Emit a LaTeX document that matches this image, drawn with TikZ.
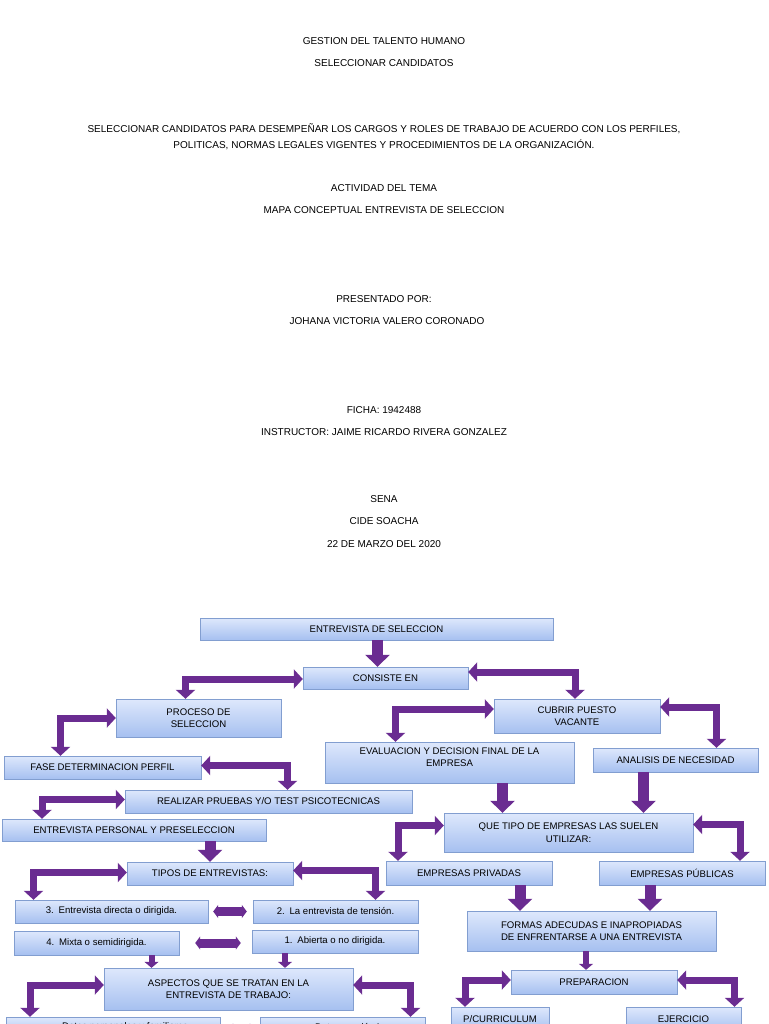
\documentclass[tikz,border=0pt]{standalone}
\usepackage{fontspec}
\setmainfont{Liberation Sans}
\usetikzlibrary{arrows.meta,shadows}

\definecolor{morado}{RGB}{106,44,145}
\definecolor{cajaarriba}{RGB}{222,232,252}
\definecolor{cajaabajo}{RGB}{166,192,240}
\definecolor{cajaborde}{RGB}{130,158,208}

\tikzset{
    caja/.style={draw=cajaborde, top color=cajaarriba, bottom color=cajaabajo,
        drop shadow={shadow xshift=1pt, shadow yshift=-1pt, opacity=0.3},
        inner sep=0pt, align=center, font=\fontsize{9.6}{12.5}\selectfont},
    flecha/.style={morado, line width=7pt,
        {Triangle[width=19pt,length=9pt]}-{Triangle[width=19pt,length=9pt]}},
    baja/.style={morado, line width=11pt, -{Triangle[width=24pt,length=12pt]}},
    bajita/.style={morado, line width=6pt, -{Triangle[width=14pt,length=6pt]}},
    doble/.style={morado, line width=9pt,
        {Triangle[width=13pt,length=5pt]}-{Triangle[width=13pt,length=5pt]}},
    titulo/.style={font=\fontsize{10}{12}\selectfont, inner sep=0pt}
}

\begin{document}
\begin{tikzpicture}[x=1pt, y=-1pt]
    \useasboundingbox (0,0) rectangle (768,1024);
    \clip (0,0) rectangle (768,1024);

    % Portada
    \node[titulo] (t1) at (384,41) {GESTION DEL TALENTO HUMANO};
    \node[titulo] (t2) at (384,63) {SELECCIONAR CANDIDATOS};
    \node[titulo] (t3) at (384,129) {SELECCIONAR CANDIDATOS PARA DESEMPEÑAR LOS CARGOS Y ROLES DE TRABAJO DE ACUERDO CON LOS PERFILES,};
    \node[titulo] (t4) at (384,145) {POLITICAS, NORMAS LEGALES VIGENTES Y PROCEDIMIENTOS DE LA ORGANIZACIÓN.};
    \node[titulo] (t5) at (384,188) {ACTIVIDAD DEL TEMA};
    \node[titulo] (t6) at (384,210) {MAPA CONCEPTUAL ENTREVISTA DE SELECCION};
    \node[titulo] (t7) at (384,299) {PRESENTADO POR:};
    \node[titulo] (t8) at (387,321) {JOHANA VICTORIA VALERO CORONADO};
    \node[titulo] (t9) at (384,410) {FICHA: 1942488};
    \node[titulo] (t10) at (384,432) {INSTRUCTOR: JAIME RICARDO RIVERA GONZALEZ};
    \node[titulo] (t11) at (384,499) {SENA};
    \node[titulo] (t12) at (384,521) {CIDE SOACHA};
    \node[titulo] (t13) at (384,544) {22 DE MARZO DEL 2020};

    % Cajas del mapa
    \node[caja, minimum width=353pt, minimum height=22pt] (entrevista) at (376.5,629) {ENTREVISTA DE SELECCION};
    \node[caja, minimum width=165pt, minimum height=22pt] (consiste) at (385.5,678) {CONSISTE EN};
    \node[caja, minimum width=165pt, minimum height=38pt] (proceso) at (198.5,718) {PROCESO DE\\SELECCION};
    \node[caja, minimum width=166pt, minimum height=34pt] (cubrir) at (577,716) {CUBRIR PUESTO\\VACANTE};
    \node[caja, minimum width=197pt, minimum height=23pt] (fase) at (102.5,767.5) {FASE DETERMINACION PERFIL};
    \node[caja, minimum width=249pt, minimum height=41pt] (evaluacion) at (449.5,762.5) {EVALUACION Y DECISION FINAL DE LA\\EMPRESA\\[-2pt]};
    \node[caja, minimum width=165pt, minimum height=24pt] (analisis) at (675.5,760) {ANALISIS DE NECESIDAD};
    \node[caja, minimum width=287pt, minimum height=23pt] (pruebas) at (268.5,801.5) {REALIZAR PRUEBAS Y/O TEST PSICOTECNICAS};
    \node[caja, minimum width=264pt, minimum height=22pt] (personal) at (134,830) {ENTREVISTA PERSONAL Y PRESELECCION};
    \node[caja, minimum width=249pt, minimum height=39pt] (quetipo) at (568.5,832.5) {QUE TIPO DE EMPRESAS LAS SUELEN\\UTILIZAR:};
    \node[caja, minimum width=166pt, minimum height=23pt] (tipos) at (210,873.5) {TIPOS DE ENTREVISTAS:};
    \node[caja, minimum width=166pt, minimum height=24pt] (privadas) at (469,873) {EMPRESAS PRIVADAS};
    \node[caja, minimum width=166pt, minimum height=24pt] (publicas) at (682,873) {EMPRESAS PÚBLICAS};
    \node[caja, minimum width=193pt, minimum height=23pt] (directa) at (111.5,911.5) {3.\enspace Entrevista directa o dirigida.};
    \node[caja, minimum width=165pt, minimum height=23pt] (tension) at (335.5,911.5) {2.\enspace La entrevista de tensión.};
    \node[caja, minimum width=249pt, minimum height=40pt] (formas) at (591.5,931) {FORMAS ADECUDAS E INAPROPIADAS\\DE ENFRENTARSE A UNA ENTREVISTA};
    \node[caja, minimum width=165pt, minimum height=24pt] (mixta) at (96.5,943) {4.\enspace Mixta o semidirigida.};
    \node[caja, minimum width=166pt, minimum height=23pt] (abierta) at (335,941.5) {1.\enspace Abierta o no dirigida.};
    \node[caja, minimum width=249pt, minimum height=42pt] (aspectos) at (228.5,989) {ASPECTOS QUE SE TRATAN EN LA\\ENTREVISTA DE TRABAJO:};
    \node[caja, minimum width=166pt, minimum height=24pt] (preparacion) at (594,982) {PREPARACION};
    \node[caja, minimum width=98pt, minimum height=24pt] (curriculum) at (500,1019) {P/CURRICULUM};
    \node[caja, minimum width=115pt, minimum height=24pt] (ejercicio) at (683.5,1019) {EJERCICIO};
    \node[caja, minimum width=214pt, minimum height=20pt] (datos) at (113,1027) {\quad$\triangleright$\quad Datos personales y familiares};
    \node[caja, minimum width=165pt, minimum height=20pt] (academicos) at (342.5,1027) {\quad$\bullet$\quad Datos académicos};

    % Flechas rectas
    \draw[baja] (entrevista.south -| consiste.north) ++(-8pt,0) coordinate (e1) -- (e1 |- consiste.north);
    \draw[baja] ([xshift=76pt]personal.south) -- ([xshift=76pt]personal.south |- tipos.north);
    \draw[baja] ([xshift=53pt]evaluacion.south) -- ([xshift=53pt]evaluacion.south |- quetipo.north);
    \draw[baja] ([xshift=-32pt]analisis.south) -- ([xshift=-32pt]analisis.south |- quetipo.north);
    \draw[baja] ([xshift=51pt]privadas.south) -- ([xshift=51pt]privadas.south |- formas.north);
    \draw[baja] ([xshift=-32pt]publicas.south) -- ([xshift=-32pt]publicas.south |- formas.north);
    \draw[bajita] (formas.south -| preparacion.north) ++(-8pt,0) coordinate (f1) -- (f1 |- preparacion.north);
    \draw[bajita] ([xshift=55pt]mixta.south) -- ([xshift=55pt]mixta.south |- aspectos.north);
    \draw[bajita] ([xshift=-50pt]abierta.south) -- ([xshift=-50pt]abierta.south |- aspectos.north);

    % Flechas en codo
    \draw[flecha] ([yshift=-1pt]consiste.west) -| ([xshift=-13pt]proceso.north);
    \draw[flecha] ([yshift=6pt]consiste.east) -| ([xshift=-2pt]cubrir.north);
    \draw[flecha] (proceso.west) -| ([xshift=-42pt]fase.north);
    \draw[flecha] ([yshift=7pt]cubrir.west) -| ([xshift=-54pt]evaluacion.north);
    \draw[flecha] ([yshift=9pt]cubrir.east) -| ([xshift=41pt]analisis.north);
    \draw[flecha] ([yshift=2pt]fase.east) -| ([xshift=19pt]pruebas.north);
    \draw[flecha] ([yshift=2pt]pruebas.west) -| ([xshift=-92pt]personal.north);
    \draw[flecha] ([yshift=7pt]quetipo.west) -| ([xshift=-71pt]privadas.north);
    \draw[flecha] ([yshift=8pt]quetipo.east) -| ([xshift=58pt]publicas.north);
    \draw[flecha] ([yshift=1pt]tipos.west) -| ([xshift=-78pt]directa.north);
    \draw[flecha] ([yshift=3pt]tipos.east) -| ([xshift=40pt]tension.north);
    \draw[flecha] ([yshift=4pt]aspectos.west) -| ([xshift=-83pt]datos.north);
    \draw[flecha] ([yshift=4pt]aspectos.east) -| ([xshift=68pt]academicos.north);
    \draw[flecha] ([yshift=2pt]preparacion.west) -| ([xshift=-35pt]curriculum.north);
    \draw[flecha] ([yshift=2pt]preparacion.east) -| ([xshift=51pt]ejercicio.north);

    % Flechas dobles
    \draw[doble] ([xshift=5pt]directa.east) -- ([xshift=-6pt]tension.west);
    \draw[doble] ([xshift=16pt]mixta.east) -- ([xshift=-11pt]mixta.east -| abierta.west);
    \draw[doble] ([xshift=8pt,yshift=-3pt]datos.east) -- ([xshift=-5pt,yshift=-3pt]academicos.west);
\end{tikzpicture}
\end{document}
